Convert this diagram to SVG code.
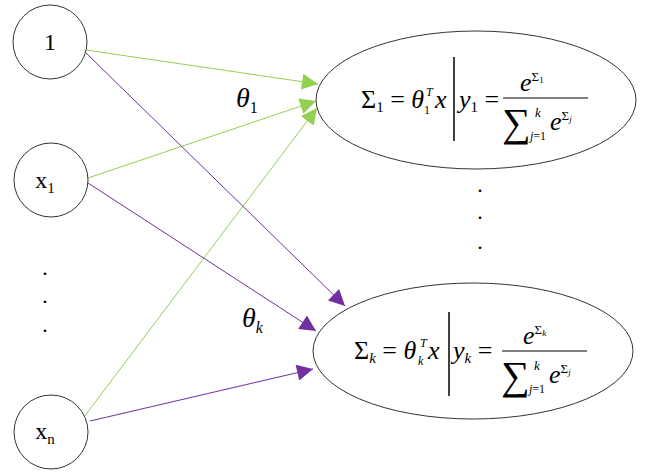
<svg xmlns="http://www.w3.org/2000/svg" width="645" height="474" viewBox="0 0 645 474">
<style>
.n{fill:#fff;stroke:#333;stroke-width:1}
.t{font-family:"Liberation Serif","DejaVu Serif",serif;fill:#000}
.g{stroke:#92d050;stroke-width:1;fill:none}
.p{stroke:#7030a0;stroke-width:1;fill:none}
</style>
<defs>
<marker id="ag" viewBox="0 0 10 10" refX="10" refY="5" markerWidth="22" markerHeight="16" markerUnits="userSpaceOnUse" orient="auto"><path d="M0,0L10,5L0,10z" fill="#92d050"/></marker>
<marker id="ap" viewBox="0 0 10 10" refX="10" refY="5" markerWidth="22" markerHeight="16" markerUnits="userSpaceOnUse" orient="auto"><path d="M0,0L10,5L0,10z" fill="#7030a0"/></marker>
</defs>
<rect width="645" height="474" fill="#fff"/>
<g id="connectors">
<line class="g" x1="86" y1="50" x2="318" y2="84" marker-end="url(#ag)"/>
<line class="g" x1="88" y1="178" x2="316" y2="101" marker-end="url(#ag)"/>
<line class="g" x1="84" y1="417" x2="317" y2="108" marker-end="url(#ag)"/>
<line class="p" x1="86" y1="53" x2="345" y2="306" marker-end="url(#ap)"/>
<line class="p" x1="88" y1="183" x2="316" y2="331" marker-end="url(#ap)"/>
<line class="p" x1="90" y1="421" x2="313" y2="369" marker-end="url(#ap)"/>
</g>
<g id="n1"><circle class="n" cx="50" cy="42" r="37"/><text class="t" x="50" y="50" font-size="24" text-anchor="middle">1</text></g>
<g id="nx1"><circle class="n" cx="51" cy="180" r="37"/><text class="t" x="45" y="188" font-size="24" text-anchor="middle">x<tspan font-size="15" dy="5">1</tspan></text></g>
<g id="dots"><text class="t" x="45" y="275" font-size="22" text-anchor="middle">.</text><text class="t" x="45" y="303" font-size="22" text-anchor="middle">.</text><text class="t" x="45" y="332" font-size="22" text-anchor="middle">.</text></g>
<g id="nxn"><circle class="n" cx="51" cy="432" r="37"/><text class="t" x="45" y="439" font-size="24" text-anchor="middle">x<tspan font-size="15" dy="5">n</tspan></text></g>
<g id="theta1"><text class="t" x="236" y="107" font-size="28" font-style="italic">θ<tspan font-size="16" dy="6" font-style="normal">1</tspan></text></g>
<g id="thetak"><text class="t" x="242" y="327" font-size="28" font-style="italic">θ<tspan font-size="16" dy="6">k</tspan></text></g>
<g id="e1">
<ellipse class="n" cx="476" cy="100" rx="160" ry="69"/>
<text class="t" x="361" y="108" font-size="26">Σ<tspan font-size="15" dy="4">1</tspan><tspan dy="-4"> = </tspan><tspan font-style="italic">θ</tspan></text>
<text class="t" x="426" y="96" font-size="12" font-style="italic">T</text>
<text class="t" x="424" y="114" font-size="12">1</text>
<text class="t" x="435" y="108" font-size="26" font-style="italic">x</text>
<line x1="454" y1="57" x2="454" y2="141" stroke="#000" stroke-width="1.5"/>
<text class="t" x="459" y="108" font-size="26"><tspan font-style="italic">y</tspan><tspan font-size="15" dy="4">1</tspan><tspan dy="-4"> =</tspan></text>
<line x1="503" y1="98" x2="588" y2="98" stroke="#000" stroke-width="1"/>
<text class="t" x="520" y="91" font-size="26" font-style="italic">e<tspan font-size="13" dy="-10" font-style="normal">Σ</tspan><tspan font-size="9" dy="2" font-style="normal">1</tspan></text>
<text class="t" x="502" y="136" font-size="40">∑</text>
<text class="t" x="535" y="117" font-size="13" font-style="italic">k</text>
<text class="t" x="530" y="140" font-size="12"><tspan font-style="italic">j</tspan>=1</text>
<text class="t" x="550" y="130" font-size="26" font-style="italic">e<tspan font-size="13" dy="-10" font-style="normal">Σ</tspan><tspan font-size="9" dy="2">j</tspan></text>
</g>
<g id="vdots"><text class="t" x="480" y="192" font-size="22" text-anchor="middle">.</text><text class="t" x="480" y="219" font-size="22" text-anchor="middle">.</text><text class="t" x="480" y="249" font-size="22" text-anchor="middle">.</text></g>
<g id="ek">
<ellipse class="n" cx="473" cy="351" rx="160" ry="68"/>
<text class="t" x="354" y="359" font-size="26">Σ<tspan font-size="15" dy="4" font-style="italic">k</tspan><tspan dy="-4"> = </tspan><tspan font-style="italic">θ</tspan></text>
<text class="t" x="420" y="347" font-size="12" font-style="italic">T</text>
<text class="t" x="418" y="365" font-size="12" font-style="italic">k</text>
<text class="t" x="428" y="359" font-size="26" font-style="italic">x</text>
<line x1="449" y1="312" x2="449" y2="396" stroke="#000" stroke-width="1.5"/>
<text class="t" x="453" y="359" font-size="26"><tspan font-style="italic">y</tspan><tspan font-size="15" dy="4" font-style="italic">k</tspan><tspan dy="-4"> =</tspan></text>
<line x1="502" y1="351" x2="587" y2="351" stroke="#000" stroke-width="1"/>
<text class="t" x="523" y="344" font-size="26" font-style="italic">e<tspan font-size="13" dy="-10" font-style="normal">Σ</tspan><tspan font-size="9" dy="2">k</tspan></text>
<text class="t" x="501" y="389" font-size="40">∑</text>
<text class="t" x="534" y="370" font-size="13" font-style="italic">k</text>
<text class="t" x="529" y="393" font-size="12"><tspan font-style="italic">j</tspan>=1</text>
<text class="t" x="549" y="383" font-size="26" font-style="italic">e<tspan font-size="13" dy="-10" font-style="normal">Σ</tspan><tspan font-size="9" dy="2">j</tspan></text>
</g>
</svg>
